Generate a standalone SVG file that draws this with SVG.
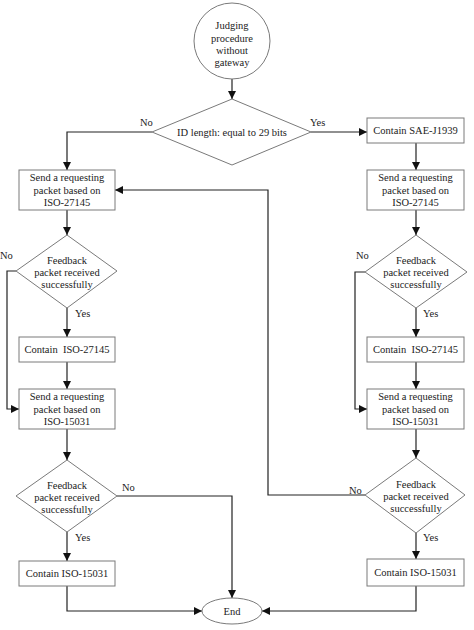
<svg xmlns="http://www.w3.org/2000/svg" width="474" height="630" viewBox="0 0 474 630">
<defs>
<marker id="ah" markerUnits="userSpaceOnUse" markerWidth="9" markerHeight="8" refX="8" refY="4" orient="auto">
<path d="M0,0 L8,4 L0,8 Z" fill="#111"/>
</marker>
<style>
.n{fill:#fff;stroke:#7a7a7a;stroke-width:1}
text{font-family:'Liberation Serif','Times New Roman',Times,serif;font-size:10.5px;fill:#222}
.t{text-anchor:middle}
.ca{fill:none;stroke:#222;stroke-width:1.2;marker-end:url(#ah)}
</style>
</defs>
<rect width="474" height="630" fill="#fff"/>

<g id="connectors">
<path class="ca" d="M232,79 V99"/>
<path class="ca" d="M152,132 H67 V170"/>
<path class="ca" d="M311,132 H367"/>
<path class="ca" d="M416,143 V170"/>
<path class="ca" d="M67,210 V235"/>
<path class="ca" d="M67,308 V337"/>
<path class="ca" d="M16,271 H7 V409 H19"/>
<path class="ca" d="M67,362 V389"/>
<path class="ca" d="M67,429 V460"/>
<path class="ca" d="M67,532 V561"/>
<path class="ca" d="M117,496 H232 V598"/>
<path class="ca" d="M67,586 V611 H202"/>
<path class="ca" d="M416,210 V235"/>
<path class="ca" d="M416,308 V337"/>
<path class="ca" d="M365,272 H355 V409 H367"/>
<path class="ca" d="M416,362 V389"/>
<path class="ca" d="M416,429 V458"/>
<path class="ca" d="M416,533 V559"/>
<path class="ca" d="M365,495 H268 V190 H115"/>
<path class="ca" d="M416,586 V611 H262"/>
<text x="140" y="126">No</text>
<text x="310" y="126">Yes</text>
<text x="0" y="259">No</text>
<text x="75" y="317">Yes</text>
<text x="122" y="491">No</text>
<text x="75" y="541">Yes</text>
<text x="356" y="259">No</text>
<text x="423" y="317">Yes</text>
<text x="349" y="494">No</text>
<text x="423" y="541">Yes</text>
</g>

<g id="start">
<circle class="n" cx="232" cy="41" r="38"/>
<text class="t" x="232" y="29">Judging</text>
<text class="t" x="232" y="42">procedure</text>
<text class="t" x="232" y="54">without</text>
<text class="t" x="232" y="66">gateway</text>
</g>

<g id="d1">
<polygon class="n" points="232,99 311,132 232,165 152,132"/>
<text class="t" x="232" y="136">ID length: equal to 29 bits</text>
</g>

<g id="L1">
<rect class="n" x="19" y="170" width="96" height="40"/>
<text class="t" x="67" y="181">Send a requesting</text>
<text class="t" x="67" y="194">packet based on</text>
<text class="t" x="67" y="206">ISO-27145</text>
</g>

<g id="d2L">
<polygon class="n" points="67,235 117,271 67,308 16,271"/>
<text class="t" x="67" y="264">Feedback</text>
<text class="t" x="67" y="276">packet received</text>
<text class="t" x="67" y="288">successfully</text>
</g>

<g id="L2">
<rect class="n" x="19" y="337" width="96" height="25"/>
<text class="t" x="67" y="353" xml:space="preserve">Contain  ISO-27145</text>
</g>

<g id="L3">
<rect class="n" x="19" y="389" width="96" height="40"/>
<text class="t" x="67" y="400">Send a requesting</text>
<text class="t" x="67" y="413">packet based on</text>
<text class="t" x="67" y="425">ISO-15031</text>
</g>

<g id="d3L">
<polygon class="n" points="67,460 117,496 67,532 16,496"/>
<text class="t" x="67" y="489">Feedback</text>
<text class="t" x="67" y="501">packet received</text>
<text class="t" x="67" y="513">successfully</text>
</g>

<g id="L4">
<rect class="n" x="19" y="561" width="96" height="25"/>
<text class="t" x="67" y="577">Contain ISO-15031</text>
</g>

<g id="end">
<ellipse class="n" cx="232" cy="611" rx="30" ry="13"/>
<text class="t" x="232" y="615">End</text>
</g>

<g id="R0">
<rect class="n" x="367" y="118" width="97" height="25"/>
<text class="t" x="415.5" y="134">Contain SAE-J1939</text>
</g>

<g id="R1">
<rect class="n" x="367" y="170" width="97" height="40"/>
<text class="t" x="415.5" y="181">Send a requesting</text>
<text class="t" x="415.5" y="194">packet based on</text>
<text class="t" x="415.5" y="206">ISO-27145</text>
</g>

<g id="d2R">
<polygon class="n" points="416,235 467,272 416,308 365,272"/>
<text class="t" x="416" y="264">Feedback</text>
<text class="t" x="416" y="276">packet received</text>
<text class="t" x="416" y="288">successfully</text>
</g>

<g id="R2">
<rect class="n" x="367" y="337" width="97" height="25"/>
<text class="t" x="415.5" y="353" xml:space="preserve">Contain  ISO-27145</text>
</g>

<g id="R3">
<rect class="n" x="367" y="389" width="97" height="40"/>
<text class="t" x="415.5" y="400">Send a requesting</text>
<text class="t" x="415.5" y="413">packet based on</text>
<text class="t" x="415.5" y="425">ISO-15031</text>
</g>

<g id="d3R">
<polygon class="n" points="416,458 465,495 416,533 365,495"/>
<text class="t" x="416" y="488">Feedback</text>
<text class="t" x="416" y="500">packet received</text>
<text class="t" x="416" y="512">successfully</text>
</g>

<g id="R4">
<rect class="n" x="367" y="559" width="97" height="27"/>
<text class="t" x="415.5" y="576">Contain ISO-15031</text>
</g>
</svg>
